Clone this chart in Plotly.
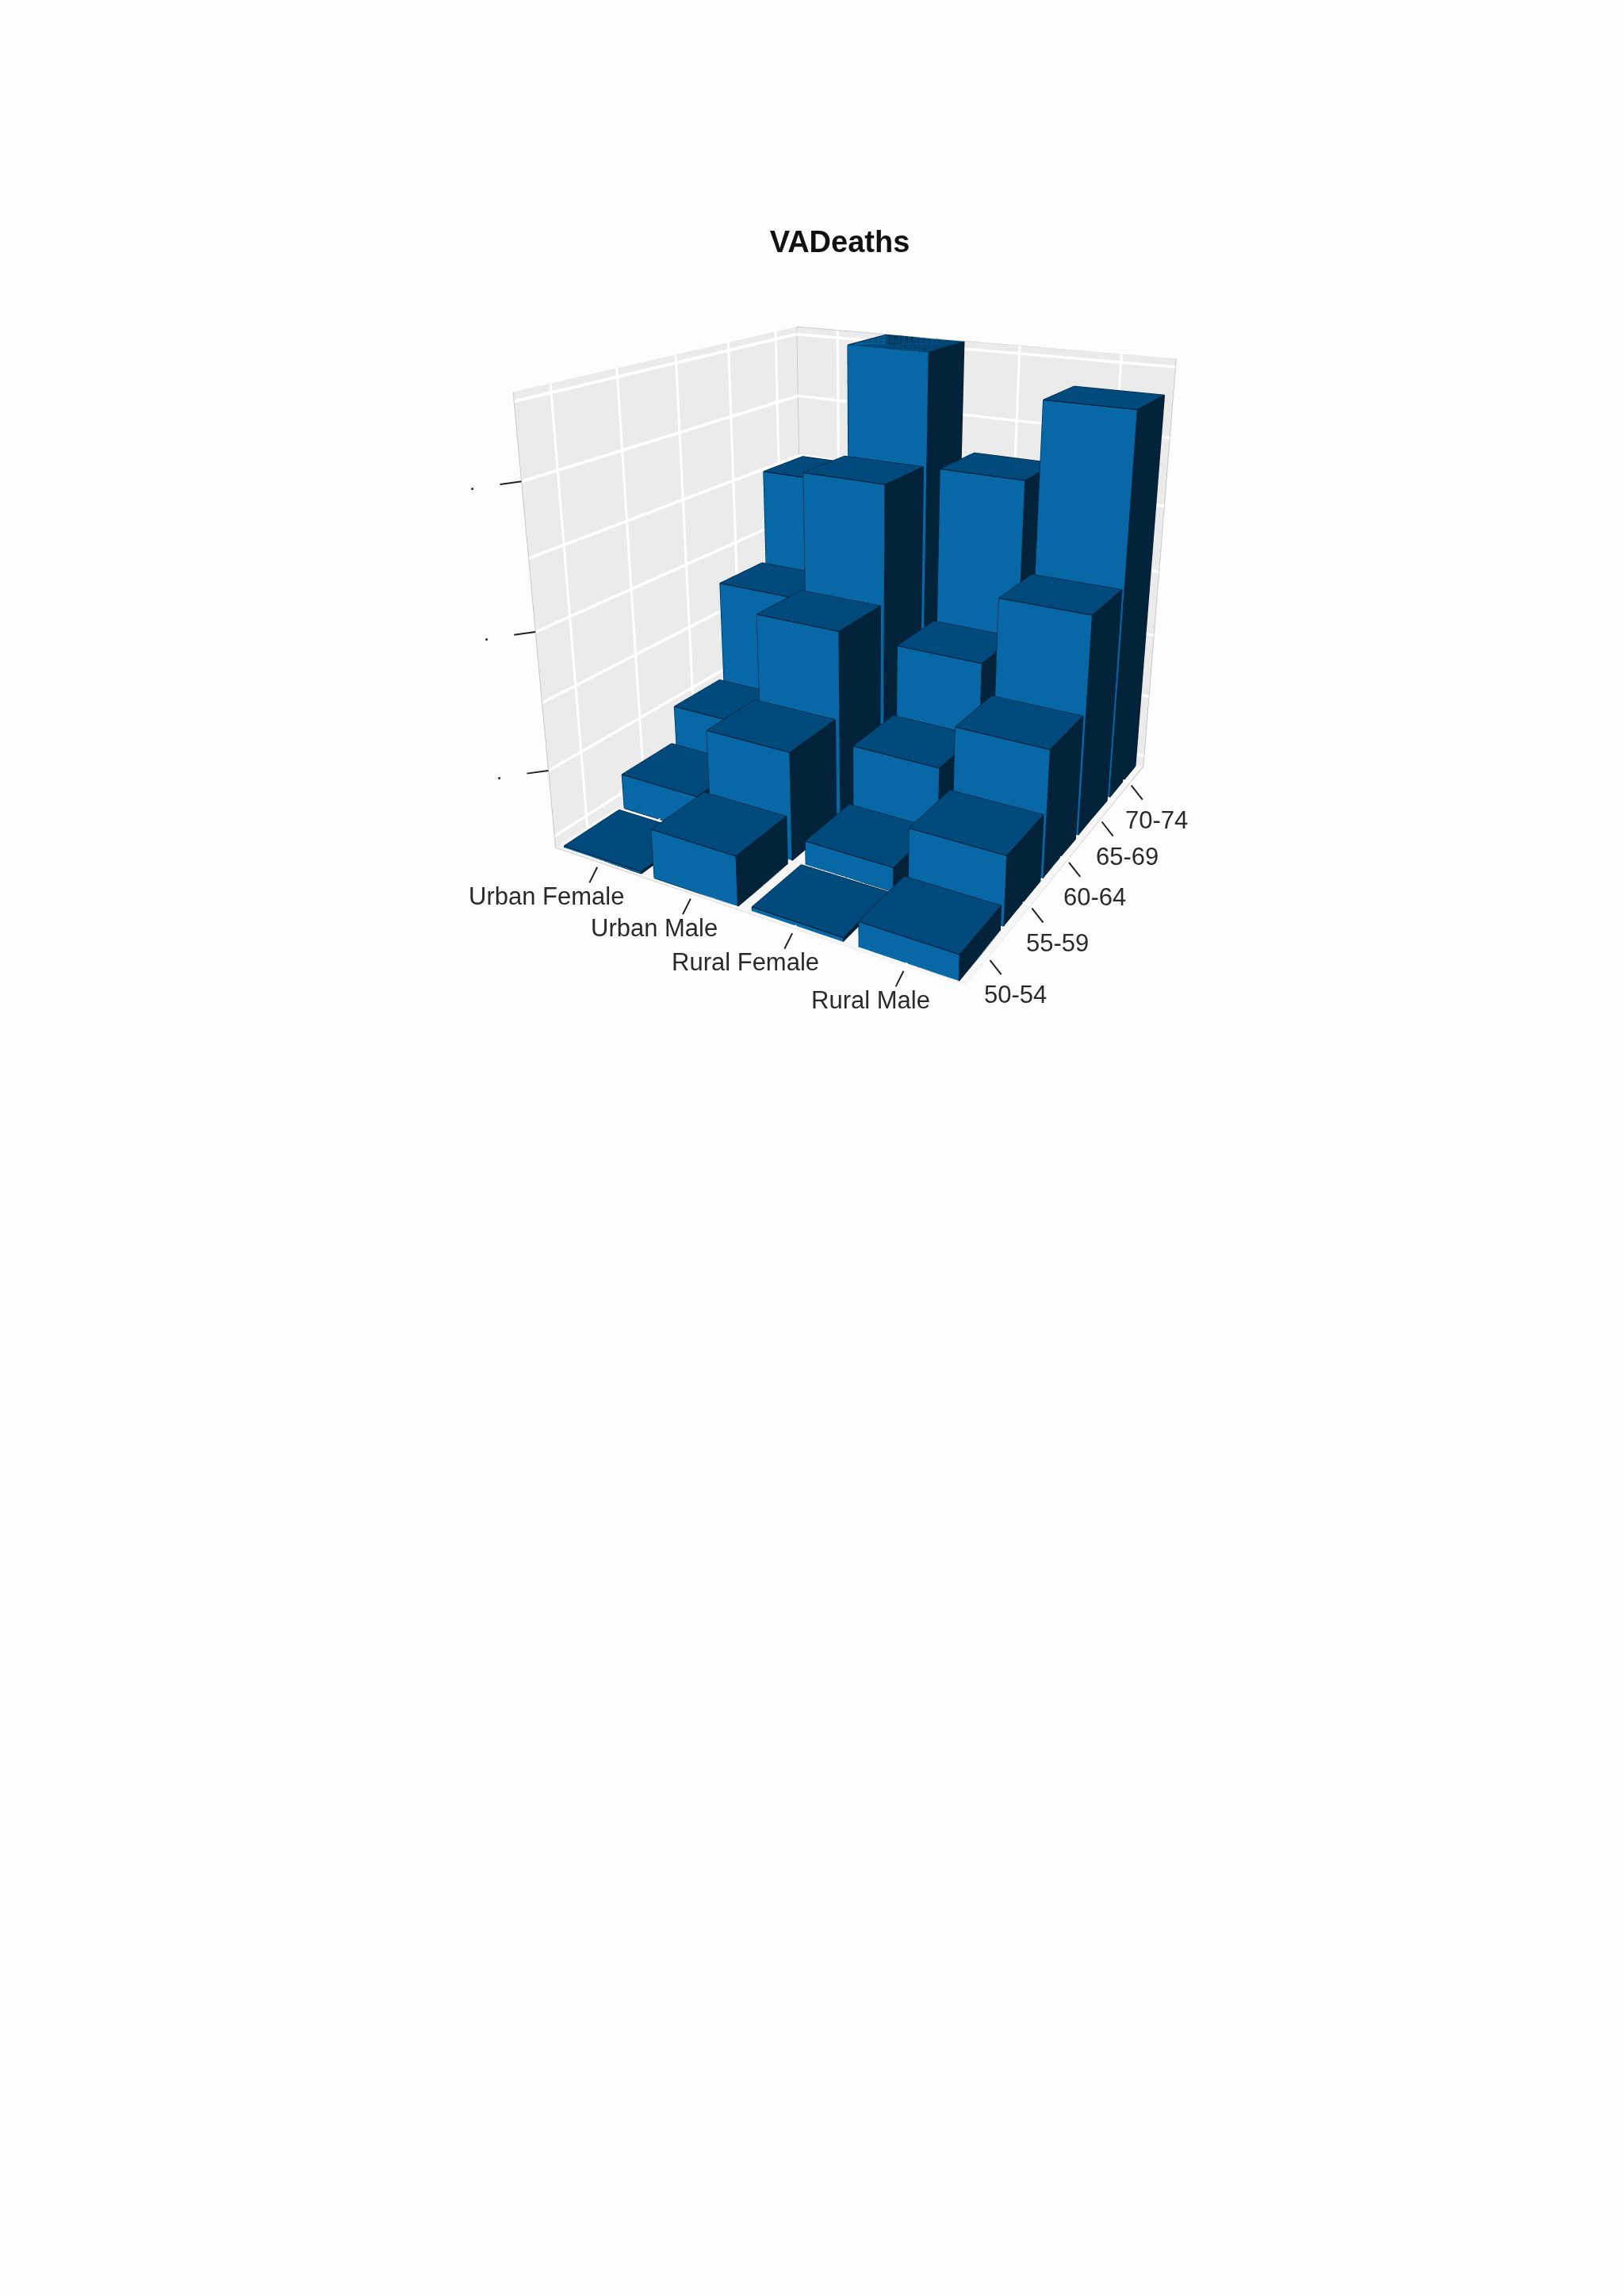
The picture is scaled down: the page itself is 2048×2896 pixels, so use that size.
import plotly.graph_objects as go

categories = ["Urban Female", "Urban Male", "Rural Female", "Rural Male"]
ages = ["50-54", "55-59", "60-64", "65-69", "70-74"]
urban_female = [8.4, 13.6, 19.3, 35.1, 50.0]
urban_male = [15.4, 24.3, 37.0, 54.6, 71.1]
rural_female = [8.7, 11.7, 20.3, 30.9, 54.3]
rural_male = [11.7, 18.1, 26.9, 41.0, 66.0]
series = [urban_female, urban_male, rural_female, rural_male]
z_ticks = [20, 40, 60]
z_grid = [10, 20, 30, 40, 50, 60, 70]

Z0, Z1 = 8.1, 71.1
HWX, HWY = 0.43, 0.455
FRONT, TOP, SIDE = "#0868a6", "#034a7c", "#02233a"
EDGE = "#021f38"

vx, vy, vz, I, J, K, fc = [], [], [], [], [], [], []
ex, ey, ez = [], [], []
for ci, col in enumerate(series):
    for ai, val in enumerate(col):
        x0, x1 = ci + 0.5 - HWX, ci + 0.5 + HWX
        y0, y1 = ai + 0.5 - HWY, ai + 0.5 + HWY
        z0, z1 = Z0, val
        n = len(vx)
        pts = [(x0, y0, z0), (x1, y0, z0), (x1, y1, z0), (x0, y1, z0),
               (x0, y0, z1), (x1, y0, z1), (x1, y1, z1), (x0, y1, z1)]
        for p in pts:
            vx.append(p[0]); vy.append(p[1]); vz.append(p[2])
        faces = [((0, 1, 5), FRONT), ((0, 5, 4), FRONT),
                 ((1, 2, 6), SIDE), ((1, 6, 5), SIDE),
                 ((4, 5, 6), TOP), ((4, 6, 7), TOP),
                 ((3, 0, 4), FRONT), ((3, 4, 7), FRONT),
                 ((2, 3, 7), SIDE), ((2, 7, 6), SIDE)]
        for (a, b, c), color in faces:
            I.append(n + a); J.append(n + b); K.append(n + c); fc.append(color)
        for a, b in [(4, 5), (5, 6), (6, 7), (7, 4), (0, 4), (1, 5), (2, 6), (0, 1), (1, 2)]:
            ex += [pts[a][0], pts[b][0], None]
            ey += [pts[a][1], pts[b][1], None]
            ez += [pts[a][2], pts[b][2], None]

nx, ny = len(categories), len(ages)
fig = go.Figure()
fig.add_trace(go.Mesh3d(x=vx, y=vy, z=vz, i=I, j=J, k=K, facecolor=fc, flatshading=True,
                        lighting=dict(ambient=1, diffuse=0, specular=0, fresnel=0, roughness=1),
                        hoverinfo="skip", showscale=False))
fig.add_trace(go.Scatter3d(x=ex, y=ey, z=ez, mode="lines", line=dict(color=EDGE, width=2.5),
                           hoverinfo="skip", showlegend=False))
gx, gy, gz = [], [], []
for z in z_grid:
    gx += [0, 0, nx, None]
    gy += [0, ny, ny, None]
    gz += [z, z, z, None]
for i in range(nx):
    gx += [i + 0.5, i + 0.5, i + 0.5, None]
    gy += [0, ny, ny, None]
    gz += [Z0, Z0, Z1, None]
for i in range(ny):
    gx += [nx, 0, 0, None]
    gy += [i + 0.5, i + 0.5, i + 0.5, None]
    gz += [Z0, Z0, Z1, None]
fig.add_trace(go.Scatter3d(x=gx, y=gy, z=gz, mode="lines", line=dict(color="white", width=10),
                           hoverinfo="skip", showlegend=False))
ox = [0, 0, None, 0, nx, None, 0, 0, None, nx, nx, None, 0, 0, None, 0, nx, nx]
oy = [0, 0, None, ny, ny, None, 0, ny, None, ny, ny, None, ny, ny, None, 0, 0, ny]
oz = [Z0, Z1, None, Z1, Z1, None, Z1, Z1, None, Z0, Z1, None, Z0, Z1, None, Z0, Z0, Z0]
fig.add_trace(go.Scatter3d(x=ox, y=oy, z=oz, mode="lines", line=dict(color="#c8c8c8", width=2),
                           hoverinfo="skip", showlegend=False))

TICK_COLOR = "#222222"
LABEL = dict(family="Liberation Sans", size=31, color="#2a2a2a")
annotations = []


def tick(x, y, z, ax, ay, standoff):
    annotations.append(dict(x=x, y=y, z=z, text=" ", showarrow=True, arrowhead=0, arrowwidth=2,
                            arrowcolor=TICK_COLOR, ax=ax, ay=ay, standoff=standoff,
                            font=dict(size=2)))


def label(x, y, z, text, xshift, yshift, xanchor="center", font=LABEL):
    annotations.append(dict(x=x, y=y, z=z, text=text, showarrow=False, xshift=xshift, yshift=yshift,
                            xanchor=xanchor, yanchor="middle", font=font))


for i, name in enumerate(categories):
    tick(i + 0.5, 0, Z0, -14, 28, 6)
    label(i + 0.5, 0, Z0, name, 33, -42, "right")
for i, name in enumerate(ages):
    tick(nx, i + 0.5, Z0, 18, 23, 3)
    label(nx, i + 0.5, Z0, name, 34, -46)
for z in z_ticks:
    tick(0, 0, z, -29, 4, 0)
    label(0, 0, z, ".", -62, -2, font=dict(family="Liberation Sans", size=26, color="#222222"))

common = dict(showbackground=True, showgrid=False, showline=False, zeroline=False,
              showspikes=False, ticks="", showticklabels=False, title=dict(text=""))

fig.update_layout(
    width=2048, height=2896, margin=dict(l=0, r=0, t=0, b=0),
    paper_bgcolor="#fdfdfd", showlegend=False,
    title=dict(text="<b>VADeaths</b>", x=1059 / 2048, xanchor="center", y=1 - 305 / 2896, yanchor="middle",
               font=dict(family="Liberation Sans", size=38, color="#111111")),
    scene=dict(
        domain=dict(x=[139 / 2048, 1], y=[0.5022, 0.9729]),
        aspectmode="manual", aspectratio=dict(x=1, y=1.02, z=1.01),
        camera=dict(eye=dict(x=1.345, y=-2.358, z=0.986), center=dict(x=0, y=0, z=0),
                    up=dict(x=-0.0052, y=-0.0030, z=1)),
        xaxis=dict(range=[0, nx], backgroundcolor="#ebebeb", **common),
        yaxis=dict(range=[0, ny], backgroundcolor="#ebebeb", **common),
        zaxis=dict(range=[Z0, Z1], backgroundcolor="#f6f6f6", **common),
        annotations=annotations,
    ),
)
fig.write_html("out.html", config=dict(displayModeBar=False), post_script="document.body.style.margin=0;")
